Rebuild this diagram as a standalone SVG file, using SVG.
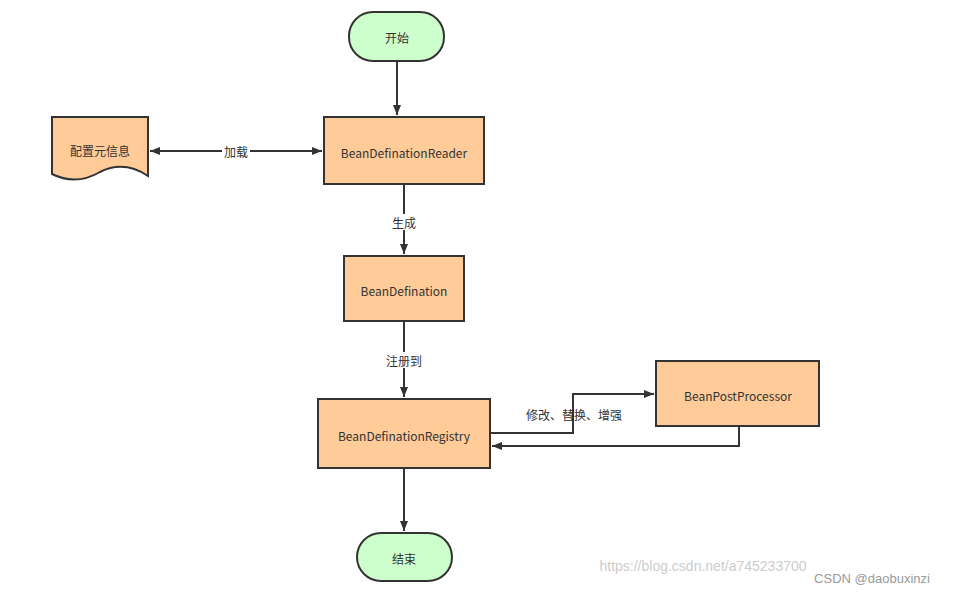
<svg xmlns="http://www.w3.org/2000/svg" width="963" height="593" viewBox="0 0 963 593">
<style>
.n{fill:#ffcc99;stroke:#333;stroke-width:2}
.t{fill:#ccffcc;stroke:#333;stroke-width:2}
text{font-family:"Microsoft YaHei","Noto Sans CJK SC",sans-serif;font-size:12px;fill:#333;text-anchor:middle;dominant-baseline:central}
.c{fill:none;stroke:#333;stroke-width:2}
.lb{fill:#fff}
</style>
<defs><marker id="a" viewBox="0 0 10 10" refX="10" refY="5" markerWidth="8" markerHeight="8" markerUnits="userSpaceOnUse" orient="auto-start-reverse"><path d="M0,0L10,5L0,10z" fill="#333"/></marker>
<marker id="b" viewBox="0 0 10 10" refX="10" refY="5" markerWidth="10" markerHeight="10" markerUnits="userSpaceOnUse" orient="auto-start-reverse"><path d="M0,1L10,5L0,9z" fill="#333"/></marker></defs>
<rect width="963" height="593" fill="#fff"/>
<g id="connectors">
<path class="c" d="M397,61V115" marker-end="url(#b)"/>
<path class="c" d="M150,151H322" marker-start="url(#b)" marker-end="url(#b)"/>
<path class="c" d="M404,184V254" marker-end="url(#b)"/>
<path class="c" d="M404,321V397" marker-end="url(#b)"/>
<path class="c" d="M404,468V531" marker-end="url(#b)"/>
<path class="c" d="M490,433H573V394H654" marker-end="url(#b)"/>
<path class="c" d="M739,426V446H492" marker-end="url(#b)"/>
<rect class="lb" x="222" y="143" width="28" height="16"/><text x="236" y="151">加载</text>
<rect class="lb" x="389" y="214" width="30" height="16"/><text x="404" y="222">生成</text>
<rect class="lb" x="384" y="352" width="40" height="16"/><text x="404" y="360">注册到</text>
<text x="574" y="414">修改、替换、增强</text>
</g>
<g id="start"><rect class="t" x="349" y="12" width="95" height="49" rx="24"/><text x="397" y="37">开始</text></g>
<g id="meta"><path class="n" d="M52,117H148V176Q124,160 100,172Q76,186 52,174Z"/><text x="100" y="150">配置元信息</text></g>
<g id="reader"><rect class="n" x="324" y="117" width="160" height="67"/><text x="404" y="152">BeanDefinationReader</text></g>
<g id="def"><rect class="n" x="344" y="256" width="120" height="65"/><text x="404" y="290">BeanDefination</text></g>
<g id="registry"><rect class="n" x="318" y="399" width="172" height="69"/><text x="404" y="435">BeanDefinationRegistry</text></g>
<g id="pp"><rect class="n" x="656" y="361" width="163" height="65"/><text x="738" y="395">BeanPostProcessor</text></g>
<g id="end"><rect class="t" x="357" y="533" width="95" height="48" rx="24"/><text x="404" y="558">结束</text></g>
<text x="703" y="566" style="fill:#ccc;font-size:14px;font-family:'Liberation Sans',sans-serif">https://blog.csdn.net/a745233700</text>
<text x="872" y="578" style="fill:#999;font-size:13px;font-family:'Liberation Sans',sans-serif">CSDN @daobuxinzi</text>
</svg>
